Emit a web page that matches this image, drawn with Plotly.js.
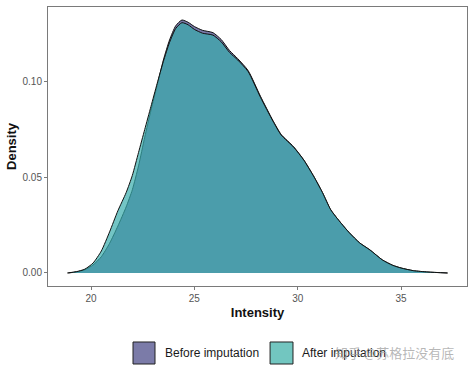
<!DOCTYPE html>
<html>
<head>
<meta charset="utf-8">
<script src="https://cdn.plot.ly/plotly-3.0.1.min.js"></script>
<style>html,body{margin:0;padding:0;background:#fff;}#chart{width:474px;height:379px;}</style>
</head>
<body>
<div id="chart"></div>
<script>
// Data
const seriesNames = ["Before imputation", "After imputation"];
const beforeX = [18.9, 19.3, 19.7, 20.1, 20.5, 20.9, 21.3, 21.7, 22.0, 22.3, 22.6, 22.9, 23.2, 23.5, 23.8, 24.1, 24.4, 24.7, 25.0, 25.4, 25.9, 26.3, 26.7, 27.1, 27.6, 28.2, 28.8, 29.2, 29.8, 30.3, 30.8, 31.2, 31.6, 32.1, 32.5, 33.0, 33.5, 34.1, 34.6, 35.0, 35.6, 36.3, 37.25];
const beforeY = [0, 0.0006, 0.0017, 0.0042, 0.0085, 0.0155, 0.0245, 0.0345, 0.0435, 0.056, 0.071, 0.085, 0.098, 0.1112, 0.1218, 0.1292, 0.1322, 0.1310, 0.1288, 0.1268, 0.1256, 0.1220, 0.1163, 0.1120, 0.1058, 0.0923, 0.0797, 0.0724, 0.0660, 0.0590, 0.0501, 0.0420, 0.0330, 0.0260, 0.0210, 0.0157, 0.0120, 0.0068, 0.0040, 0.0026, 0.0012, 0.0005, 0];
const afterX = [18.85, 19.3, 19.7, 20.1, 20.5, 20.9, 21.3, 21.7, 22.0, 22.3, 22.6, 22.9, 23.2, 23.5, 23.8, 24.1, 24.4, 24.7, 25.0, 25.4, 25.9, 26.3, 26.7, 27.1, 27.6, 28.2, 28.8, 29.2, 29.8, 30.3, 30.8, 31.2, 31.6, 32.1, 32.5, 33.0, 33.5, 34.1, 34.6, 35.0, 35.6, 36.3, 37.25];
const afterY = [0, 0.0007, 0.002, 0.0052, 0.0115, 0.0215, 0.0325, 0.042, 0.051, 0.063, 0.075, 0.087, 0.099, 0.1105, 0.1205, 0.1278, 0.1308, 0.1297, 0.1273, 0.1253, 0.1243, 0.1208, 0.1153, 0.1113, 0.1053, 0.0918, 0.0794, 0.0721, 0.0658, 0.0589, 0.0500, 0.0420, 0.0330, 0.0260, 0.0210, 0.0157, 0.0120, 0.0068, 0.0040, 0.0026, 0.0012, 0.0005, 0];
const xTicks = [20, 25, 30, 35];
const yTicks = [0, 0.05, 0.10];
const xTitle = "Intensity";
const yTitle = "Density";
const watermark = "知乎 @苏格拉没有底";

const fills = ["rgba(62,62,130,0.7)", "rgba(56,172,172,0.7)"];
const keyColors = ["#7b7ba8", "#72c6c0"];
const font = "Liberation Sans, Arial, sans-serif";

const traces = [
  {x: beforeX, y: beforeY, name: seriesNames[0], type: "scatter", mode: "lines",
   line: {color: "#111", width: 1, shape: "spline", smoothing: 0.6}, fill: "tozeroy", fillcolor: fills[0], showlegend: false, hoverinfo: "skip"},
  {x: afterX, y: afterY, name: seriesNames[1], type: "scatter", mode: "lines",
   line: {color: "#111", width: 1, shape: "spline", smoothing: 0.6}, fill: "tozeroy", fillcolor: fills[1], showlegend: false, hoverinfo: "skip"}
];

const layout = {
  width: 474, height: 379,
  margin: {l: 48, r: 7, t: 7, b: 93},
  paper_bgcolor: "#fff", plot_bgcolor: "#fff",
  font: {family: font, color: "#4d4d4d", size: 10},
  showlegend: false,
  xaxis: {
    range: [17.92, 38.19], tickvals: xTicks, ticktext: xTicks.map(String),
    showgrid: false, zeroline: false, showline: true, mirror: true,
    linecolor: "#7a7a7a", linewidth: 1, ticks: "outside", ticklen: 3, tickcolor: "#7a7a7a",
    tickfont: {size: 10, color: "#555"},
    title: {text: "<b>" + xTitle + "</b>", font: {size: 13, color: "#111"}, standoff: 4}
  },
  yaxis: {
    range: [-0.0068, 0.139], tickvals: yTicks, ticktext: yTicks.map(v => v.toFixed(2)),
    showgrid: false, zeroline: false, showline: true, mirror: true,
    linecolor: "#7a7a7a", linewidth: 1, ticks: "outside", ticklen: 3, tickcolor: "#7a7a7a",
    tickfont: {size: 10, color: "#555"},
    title: {text: "<b>" + yTitle + "</b>", font: {size: 13, color: "#111"}, standoff: 2}
  },
  shapes: [
    {type: "rect", xref: "paper", yref: "paper", x0: 0.2029, x1: 0.2554, y0: -0.2796, y1: -0.2007,
     fillcolor: keyColors[0], line: {color: "#222", width: 1}},
    {type: "rect", xref: "paper", yref: "paper", x0: 0.530, x1: 0.5847, y0: -0.2796, y1: -0.2007,
     fillcolor: keyColors[1], line: {color: "#222", width: 1}}
  ],
  annotations: [
    {xref: "paper", yref: "paper", x: 0.2745, y: -0.240, xanchor: "left", yanchor: "middle",
     text: seriesNames[0], showarrow: false, font: {size: 12, color: "#1a1a1a"}},
    {xref: "paper", yref: "paper", x: 0.6014, y: -0.240, xanchor: "left", yanchor: "middle",
     text: seriesNames[1], showarrow: false, font: {size: 12, color: "#1a1a1a"}},
    {xref: "paper", yref: "paper", x: 0.680, y: -0.240, xanchor: "left", yanchor: "middle",
     text: watermark, showarrow: false, font: {size: 13, color: "rgba(160,160,160,0.75)", family: "Noto Sans CJK SC, sans-serif"}}
  ]
};

Plotly.newPlot("chart", traces, layout, {staticPlot: true, displayModeBar: false});
</script>
</body>
</html>
